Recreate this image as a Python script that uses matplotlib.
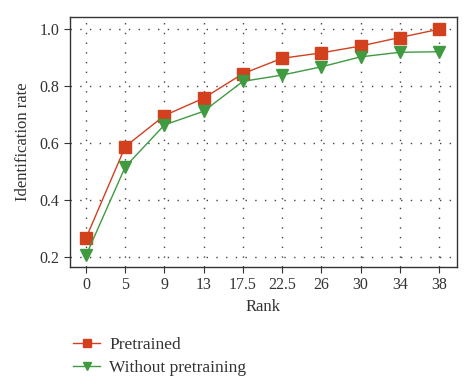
import matplotlib
matplotlib.use("Agg")
from matplotlib import pyplot as plt

# rank labels shown on the x axis (equally spaced)
ranks = ["0", "5", "9", "13", "17.5", "22.5", "26", "30", "34", "38"]
pretrained = [0.267, 0.588, 0.697, 0.758, 0.844, 0.898, 0.917, 0.941, 0.971, 1.0]
without_pretraining = [0.206, 0.517, 0.664, 0.712, 0.817, 0.839, 0.868, 0.903, 0.919, 0.921]

plt.rcParams['font.family'] = ['Liberation Serif', 'DejaVu Serif']

fig = plt.figure(figsize=(4.74, 3.86), dpi=100)
ax = fig.add_axes([70 / 474, 1 - 267 / 386, 387 / 474, 250 / 386])

pos = list(range(len(ranks)))
ax.plot(pos, pretrained, color='#d2401e', marker='s', markersize=8, linewidth=1.0,
        label='Pretrained', zorder=3)
ax.plot(pos, without_pretraining, color='#3f9a40', marker='v', markersize=8, linewidth=1.0,
        label='Without pretraining', zorder=3)

ax.set_xlim(-0.41, 9.46)
ax.set_ylim(0.165, 1.043)
ax.set_xticks(pos)
ax.set_xticklabels(ranks)
ax.set_yticks([0.2, 0.4, 0.6, 0.8, 1.0])
ax.set_yticklabels(["0.2", "0.4", "0.6", "0.8", "1.0"])
ax.tick_params(labelsize=11.5, length=4, width=0.8, color='#333333', labelcolor='#333333')
ax.grid(True, linestyle=(0, (1, 6)), color='#444444', linewidth=1.0)
for s in ax.spines.values():
    s.set_color('#333333')
    s.set_linewidth(1.0)

ax.set_xlabel('Rank', fontsize=12, color='#333333', labelpad=4)
ax.set_ylabel('Identification rate', fontsize=12, color='#333333', labelpad=6)

fig.legend(loc='upper left', bbox_to_anchor=(57 / 474, 1 - 321 / 386), frameon=False,
           fontsize=12.5, handlelength=1.6, handletextpad=0.5, labelspacing=0.4,
           markerscale=0.8, labelcolor='#333333')

fig.savefig("out.png", dpi=100)
